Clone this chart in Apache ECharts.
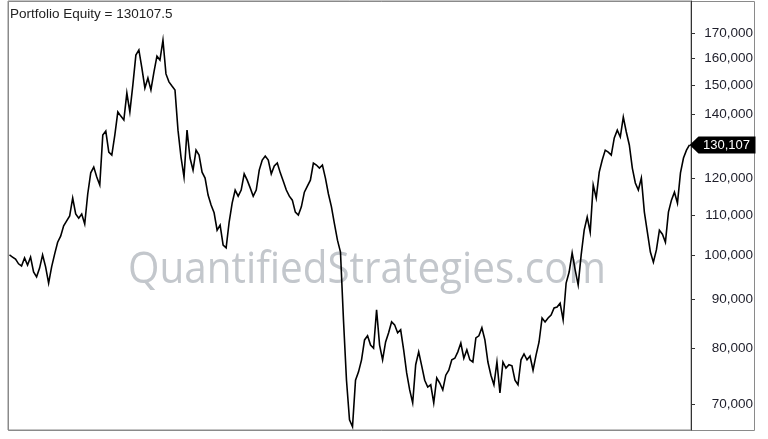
<!DOCTYPE html>
<html>
<head>
<meta charset="utf-8">
<script src="https://cdn.jsdelivr.net/npm/echarts@6/dist/echarts.min.js"></script>
<style>html,body{margin:0;padding:0;background:#fff}#c{width:768px;height:439px}</style>
</head>
<body>
<div id="c"></div>
<script>
const titleText = 'Portfolio Equity = 130107.5';
const watermark = 'QuantifiedStrategies.com';
const tickValues = [70000, 80000, 90000, 100000, 110000, 120000, 130000, 140000, 150000, 160000, 170000];
const equity = [
100000, 99500, 99000, 97900, 97400, 99300, 97600, 99500, 96000, 94900,
96900, 100000, 97200, 93500, 97200, 100200, 103100, 104600, 107200, 108500,
109800, 114600, 110300, 109200, 110300, 107700, 115700, 121700, 123400, 120500,
118200, 133200, 134500, 127900, 127000, 133200, 140800, 139400, 138100, 147300,
140800, 150200, 161300, 163300, 156400, 149100, 152700, 148400, 154900, 160900,
159400, 167200, 154200, 151300, 149800, 148400, 134800, 126400, 120500, 134800,
126100, 122500, 128500, 127000, 121900, 120200, 115400, 112700, 110600, 106100,
107400, 102400, 101700, 108200, 113200, 116800, 115100, 116800, 121400, 119600,
117400, 115100, 116800, 122500, 125500, 126700, 125500, 121400, 123700, 124600,
121700, 119300, 116800, 115100, 114000, 110800, 110000, 112200, 116200, 117900,
119600, 124600, 124000, 123100, 124000, 120200, 115700, 112200, 107700, 103600,
100700, 85600, 74100, 67400, 66300, 74100, 75600, 77800, 81600, 82400,
80600, 80000, 87700, 80600, 77800, 81200, 83000, 85200, 84600, 83000,
83600, 79700, 75400, 72400, 70200, 76900, 79300, 76700, 74100, 72900,
73300, 70200, 74500, 73600, 72400, 75000, 75900, 77800, 78100, 79300,
81000, 78100, 79700, 77800, 77400, 82000, 82400, 84000, 81600, 77400,
75000, 73300, 77400, 71900, 77400, 76300, 76900, 76700, 74100, 73300,
77800, 78900, 77800, 78500, 75900, 78700, 81200, 86000, 85200, 86000,
86600, 88100, 88300, 89100, 85600, 93500, 96000, 100500, 96500, 93100,
100000, 106100, 109500, 105600, 118200, 114600, 121900, 125500, 128500, 127900,
127000, 132300, 134800, 132600, 139100, 134200, 130100, 123100, 118800, 116800,
120200, 110800, 105600, 100700, 98300, 101200, 106100, 105100, 103100, 110800,
114000, 116200, 113200, 121700, 126100, 128500, 130107.5
];
const days = equity.map((_, i) => i + 1);
const lastIdx = equity.length - 1;
const lastVal = equity[lastIdx];

const fmt = v => Math.floor(v).toLocaleString('en-US');
const chart = echarts.init(document.getElementById('c'), null, {renderer: 'canvas'});
chart.setOption({
  animation: false,
  backgroundColor: '#fff',
  grid: {left: 8, right: 77, top: 1, bottom: 9, show: true, borderColor: '#8a8a8a', borderWidth: 1},
  title: {text: titleText, left: 5, top: 2, textStyle: {fontFamily: 'Liberation Sans, Arial', fontSize: 13.5, fontWeight: 'normal', color: '#222'}},
  graphic: [
    {type: 'text', z: 0, x: 367, y: 271, scaleX: 0.94, originX: 0, originY: 0, style: {text: watermark, font: '43px "Open Sans"', fill: '#c3c7cc', textAlign: 'center', textVerticalAlign: 'middle'}},
    {type: 'rect', z: 0, silent: true, shape: {x: 8.5, y: 1.5, width: 746, height: 429}, style: {fill: 'none', stroke: '#8a8a8a', lineWidth: 1}}
  ],
  xAxis: {type: 'category', data: days, boundaryGap: true, show: false},
  yAxis: {
    type: 'log', position: 'right', min: 65780, max: 183600, logBase: 10,
    axisLine: {show: true, lineStyle: {color: '#333', width: 1}},
    axisTick: {show: true, length: 4, inside: false, customValues: tickValues, lineStyle: {color: '#333'}},
    axisLabel: {customValues: tickValues, formatter: fmt, align: 'right', margin: 62, fontFamily: 'Liberation Sans, Arial', fontSize: 13.5, color: '#1e1e2a'},
    splitLine: {show: false}, minorTick: {show: false}
  },
  series: [{
    type: 'line', data: equity, showSymbol: false, symbol: 'none', z: 5,
    lineStyle: {color: '#000', width: 1.6, join: 'miter'},
    markPoint: {
      silent: true,
      symbol: 'path://M0,8.5 L9,0 L66,0 L66,17 L9,17 Z',
      symbolSize: [66, 17], symbolKeepAspect: false, symbolOffset: [33, 0],
      itemStyle: {color: '#000'},
      label: {show: true, position: 'inside', offset: [4, 0], color: '#fff', fontFamily: 'Liberation Sans, Arial', fontSize: 13, formatter: () => fmt(lastVal)},
      data: [{coord: [lastIdx, lastVal]}]
    }
  }]
});
</script>
</body>
</html>
